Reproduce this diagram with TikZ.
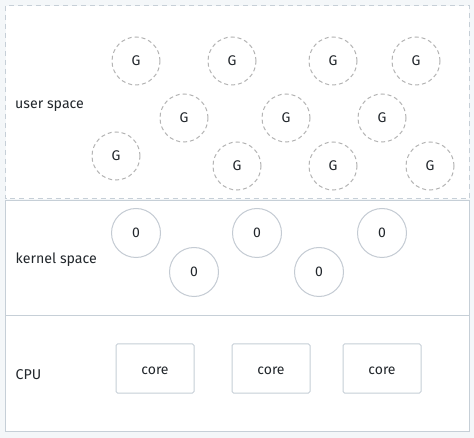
\documentclass[tikz,border=0pt]{standalone}
\usepackage{fontspec}
\setmainfont{Fira Sans}
\definecolor{bgc}{HTML}{F4F7F9}
\definecolor{boxc}{HTML}{C6CFD7}
\definecolor{gc}{HTML}{B4B4B4}
\definecolor{oc}{HTML}{C4CBD3}
\definecolor{txc}{HTML}{22272C}
\tikzset{
  layer/.style={draw=boxc, line width=1pt, fill=white},
  gnode/.style={circle, draw=gc, dash pattern=on 4pt off 3pt, line width=1pt, minimum size=48pt, inner sep=0pt, text=txc, font=\fontsize{14}{16}\selectfont},
  onode/.style={circle, draw=oc, line width=1pt, minimum size=49pt, inner sep=0pt, text=txc, font=\fontsize{14}{16}\selectfont},
  corebox/.style={draw=boxc, line width=1pt, rounded corners=1.5pt, minimum width=78pt, minimum height=49pt, inner sep=0pt, text height=11pt, text depth=0pt, text=txc, font=\fontsize{14}{16}\selectfont},
  lbl/.style={anchor=base west, inner sep=0pt, text=txc, font=\fontsize{14.2}{17}\selectfont},
}
\begin{document}
\begin{tikzpicture}[x=1pt, y=-1pt]
\fill[bgc] (0,0) rectangle (474,438);
\useasboundingbox (0,0) rectangle (474,438);
% layers
\draw[layer, dash pattern=on 5pt off 4pt] (5.5,6) rectangle (469,199);
\draw[layer] (5.5,200.5) rectangle (469,316);
\draw[layer] (5.5,316) rectangle (469,431);
% labels
\node[lbl] (lu) at (15,109) {user space};
\node[lbl] (lk) at (15.5,263.5) {kernel space};
\node[lbl] (lc) at (15.5,379.5) {CPU};
% G goroutines
\node[gnode] (g1) at (136,61) {G};
\node[gnode] (g2) at (232,61) {G};
\node[gnode] (g3) at (333,61) {G};
\node[gnode] (g4) at (416,61) {G};
\node[gnode] (g5) at (184,118) {G};
\node[gnode] (g6) at (286,118) {G};
\node[gnode] (g7) at (382,118) {G};
\node[gnode] (g8) at (116,156) {G};
\node[gnode] (g9) at (237,166) {G};
\node[gnode] (g10) at (333,166) {G};
\node[gnode] (g11) at (430,166) {G};
% kernel threads
\node[onode] (o1) at (136,233) {0};
\node[onode] (o2) at (194,272) {0};
\node[onode] (o3) at (257,233) {0};
\node[onode] (o4) at (319,272) {0};
\node[onode] (o5) at (382,233) {0};
% cores
\node[corebox] (c1) at (155,368.5) {core};
\node[corebox] (c2) at (271,368.5) {core};
\node[corebox] (c3) at (382,368.5) {core};
\end{tikzpicture}
\end{document}
